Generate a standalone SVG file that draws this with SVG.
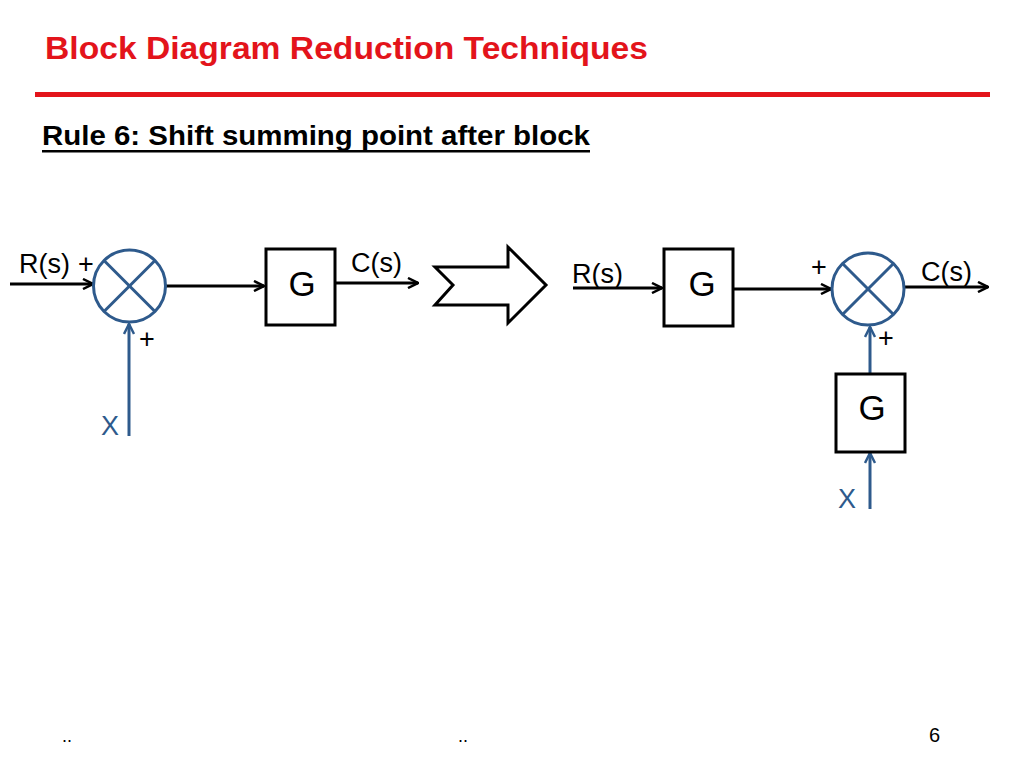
<svg xmlns="http://www.w3.org/2000/svg" width="1024" height="768" viewBox="0 0 1024 768">
<style>
  text { font-family: "Liberation Sans", "DejaVu Sans", sans-serif; }
  .blk { fill: #fff; stroke: #000; stroke-width: 3; }
  .sum { fill: #fff; stroke: #2E5A8C; stroke-width: 3; }
  .sumx { stroke: #2E5A8C; stroke-width: 3; }
  .wire { fill: none; stroke: #000; stroke-width: 3; }
  .bwire { fill: none; stroke: #2E5A8C; stroke-width: 3; }
  .lbl { font-size: 27px; fill: #000; }
  .blbl { font-size: 27px; fill: #2E5A8C; }
  .g { font-size: 35px; fill: #000; text-anchor: middle; }
</style>
<defs>
  <marker id="ah" viewBox="0 0 12 12" refX="11" refY="6" markerWidth="12" markerHeight="12" markerUnits="userSpaceOnUse" orient="auto">
    <path d="M1,1 L11,6 L1,11" fill="none" stroke="#000" stroke-width="2.5"/>
  </marker>
  <marker id="ahb" viewBox="0 0 12 12" refX="11" refY="6" markerWidth="12" markerHeight="12" markerUnits="userSpaceOnUse" orient="auto">
    <path d="M1,1 L11,6 L1,11" fill="none" stroke="#2E5A8C" stroke-width="2.5"/>
  </marker>
</defs>
<rect width="1024" height="768" fill="#fff"/>

<g id="header">
  <text x="45" y="59" font-size="32" font-weight="bold" fill="#E3141B" textLength="603" lengthAdjust="spacingAndGlyphs">Block Diagram Reduction Techniques</text>
  <rect x="35" y="92" width="955" height="5" fill="#E3141B"/>
  <text x="42" y="145" font-size="27" font-weight="bold" fill="#000" textLength="548" lengthAdjust="spacingAndGlyphs">Rule 6: Shift summing point after block</text>
  <rect x="42" y="150" width="548" height="2.5" fill="#000"/>
</g>

<g id="connectors">
  <line class="wire" x1="10" y1="284" x2="93" y2="284" marker-end="url(#ah)"/>
  <line class="wire" x1="166" y1="286" x2="264" y2="286" marker-end="url(#ah)"/>
  <line class="wire" x1="336" y1="283" x2="418" y2="283" marker-end="url(#ah)"/>
  <line class="bwire" x1="129" y1="436" x2="129" y2="324" marker-end="url(#ahb)"/>
  <line class="wire" x1="573" y1="288" x2="662" y2="288" marker-end="url(#ah)"/>
  <line class="wire" x1="734" y1="289" x2="831" y2="289" marker-end="url(#ah)"/>
  <line class="wire" x1="905" y1="287" x2="988" y2="287" marker-end="url(#ah)"/>
  <line class="bwire" x1="870" y1="378" x2="870" y2="327" marker-end="url(#ahb)"/>
  <line class="bwire" x1="870" y1="509" x2="870" y2="453" marker-end="url(#ahb)"/>
</g>

<g id="sum1">
  <circle class="sum" cx="129.5" cy="286" r="36"/>
  <line class="sumx" x1="104" y1="260.5" x2="155" y2="311.5"/>
  <line class="sumx" x1="155" y1="260.5" x2="104" y2="311.5"/>
</g>

<g id="block1">
  <rect class="blk" x="266" y="249" width="69" height="76"/>
  <text class="g" x="302" y="296">G</text>
</g>

<g id="bigarrow">
  <polygon points="435,267 508,267 508,247 546,285 508,323 508,305 435,305 453,285" fill="#fff" stroke="#000" stroke-width="3" stroke-linejoin="miter"/>
</g>

<g id="block2">
  <rect class="blk" x="664" y="249" width="69" height="77"/>
  <text class="g" x="702" y="296">G</text>
</g>

<g id="sum2">
  <circle class="sum" cx="868" cy="289" r="36"/>
  <line class="sumx" x1="842.5" y1="263.5" x2="893.5" y2="314.5"/>
  <line class="sumx" x1="893.5" y1="263.5" x2="842.5" y2="314.5"/>
</g>

<g id="block3">
  <rect class="blk" x="836" y="374" width="69" height="78"/>
  <text class="g" x="872" y="420">G</text>
</g>

<g id="labels">
  <text class="lbl" x="19" y="273">R(s)</text>
  <text class="lbl" x="78" y="273">+</text>
  <text class="lbl" x="139" y="348">+</text>
  <text class="blbl" x="101" y="435">X</text>
  <text class="lbl" x="351" y="272">C(s)</text>
  <text class="lbl" x="572" y="283">R(s)</text>
  <text class="lbl" x="811" y="276">+</text>
  <text class="lbl" x="878" y="347">+</text>
  <text class="lbl" x="921" y="281">C(s)</text>
  <text class="blbl" x="838" y="508">X</text>
</g>

<g id="footer">
  <text x="62" y="742" font-size="18" fill="#000">..</text>
  <text x="458" y="742" font-size="18" fill="#000">..</text>
  <text x="929" y="742" font-size="20" fill="#000">6</text>
</g>
</svg>
